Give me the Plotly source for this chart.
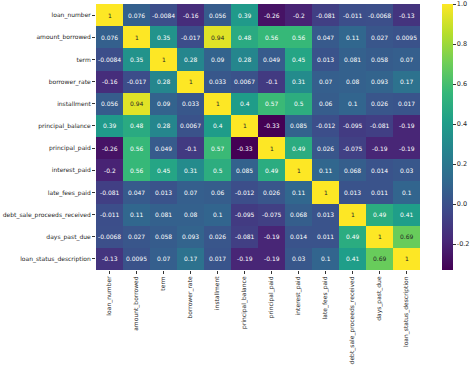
import plotly.graph_objects as go

labels = ["loan_number", "amount_borrowed", "term", "borrower_rate", "installment",
          "principal_balance", "principal_paid", "interest_paid", "late_fees_paid",
          "debt_sale_proceeds_received", "days_past_due", "loan_status_description"]

r_loan_number = [1, 0.076, -0.0084, -0.16, 0.056, 0.39, -0.26, -0.2, -0.081, -0.011, -0.0068, -0.13]
r_amount_borrowed = [0.076, 1, 0.35, -0.017, 0.94, 0.48, 0.56, 0.56, 0.047, 0.11, 0.027, 0.0095]
r_term = [-0.0084, 0.35, 1, 0.28, 0.09, 0.28, 0.049, 0.45, 0.013, 0.081, 0.058, 0.07]
r_borrower_rate = [-0.16, -0.017, 0.28, 1, 0.033, 0.0067, -0.1, 0.31, 0.07, 0.08, 0.093, 0.17]
r_installment = [0.056, 0.94, 0.09, 0.033, 1, 0.4, 0.57, 0.5, 0.06, 0.1, 0.026, 0.017]
r_principal_balance = [0.39, 0.48, 0.28, 0.0067, 0.4, 1, -0.33, 0.085, -0.012, -0.095, -0.081, -0.19]
r_principal_paid = [-0.26, 0.56, 0.049, -0.1, 0.57, -0.33, 1, 0.49, 0.026, -0.075, -0.19, -0.19]
r_interest_paid = [-0.2, 0.56, 0.45, 0.31, 0.5, 0.085, 0.49, 1, 0.11, 0.068, 0.014, 0.03]
r_late_fees_paid = [-0.081, 0.047, 0.013, 0.07, 0.06, -0.012, 0.026, 0.11, 1, 0.013, 0.011, 0.1]
r_debt_sale = [-0.011, 0.11, 0.081, 0.08, 0.1, -0.095, -0.075, 0.068, 0.013, 1, 0.49, 0.41]
r_days_past_due = [-0.0068, 0.027, 0.058, 0.093, 0.026, -0.081, -0.19, 0.014, 0.011, 0.49, 1, 0.69]
r_loan_status = [-0.13, 0.0095, 0.07, 0.17, 0.017, -0.19, -0.19, 0.03, 0.1, 0.41, 0.69, 1]

z = [r_loan_number, r_amount_borrowed, r_term, r_borrower_rate, r_installment,
     r_principal_balance, r_principal_paid, r_interest_paid, r_late_fees_paid,
     r_debt_sale, r_days_past_due, r_loan_status]

cb_ticks = [-0.2, 0.0, 0.2, 0.4, 0.6, 0.8, 1.0]

FONT = "DejaVu Sans"
TXT = "#262626"

fig = go.Figure(go.Heatmap(
    z=z, x=labels, y=labels, colorscale="Viridis", zmin=-0.33, zmax=1,
    xgap=0, ygap=0,
    colorbar=dict(
        x=1.068, xanchor="left", xpad=0, ypad=0, y=0.5, yanchor="middle",
        len=1, lenmode="fraction", thickness=11, outlinewidth=0,
        tickvals=cb_ticks, ticktext=["%.1f" % t for t in cb_ticks],
        ticks="outside", ticklen=3, tickcolor="#333",
        tickfont=dict(family=FONT, size=6.5, color=TXT),
    ),
    hoverinfo="skip",
))

annotations = []
for i, row in enumerate(z):
    for j, v in enumerate(row):
        annotations.append(dict(
            x=labels[j], y=labels[i], text=format(v, ".2g"), showarrow=False,
            font=dict(family=FONT, size=6, color=TXT if v >= 0.6 else "white"),
        ))

fig.update_layout(
    width=474, height=366, margin=dict(l=96, r=54, t=4, b=96, autoexpand=False),
    paper_bgcolor="white", plot_bgcolor="white",
    annotations=annotations,
    xaxis=dict(tickangle=-90, ticks="outside", ticklen=3, tickcolor="#333",
               tickfont=dict(family=FONT, size=6, color=TXT), showgrid=False,
               zeroline=False, automargin=False),
    yaxis=dict(autorange="reversed", ticks="outside", ticklen=3, tickcolor="#333",
               tickfont=dict(family=FONT, size=6, color=TXT), showgrid=False,
               zeroline=False, automargin=False),
)

fig.write_html("out.html", config={"displayModeBar": False},
               post_script="document.body.style.margin='0';document.body.style.overflow='hidden';")
